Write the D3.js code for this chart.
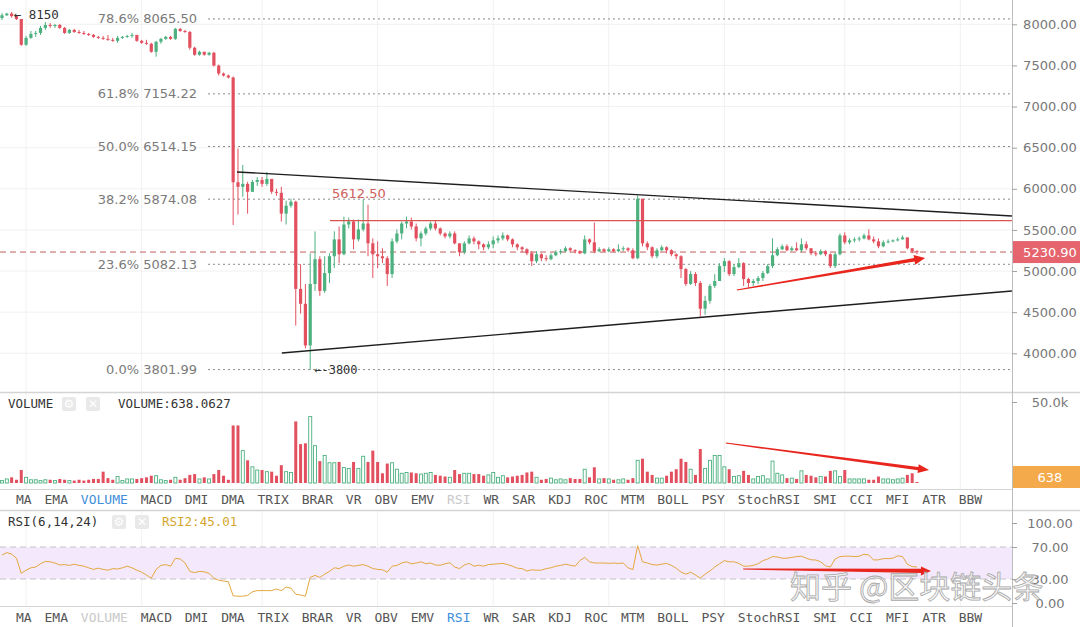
<!DOCTYPE html>
<html>
<head>
<meta charset="utf-8">
<script src="https://cdn.jsdelivr.net/npm/d3@7"></script>
<style>
  body { margin: 0; background: #fff; }
  svg { display: block; }
</style>
</head>
<body>
<div id="chart"></div>
<script>
// data (price in USD, volume in thousands, one entry per candle)
var firstOpen = 8076;

var closes = [
  8110, 8130, 8100, 8064, 7751, 7835, 7883, 7895, 7956, 7992,
  7980, 7992, 7956, 7895, 7932, 7907, 7895, 7883, 7871, 7847,
  7835, 7823, 7811, 7799, 7835, 7847, 7859, 7871, 7799, 7775,
  7763, 7666, 7787, 7823, 7847, 7823, 7944, 7919, 7907, 7715,
  7630, 7666, 7630, 7654, 7498, 7401, 7377, 7353, 6080, 6024,
  6060, 5964, 6084, 6108, 6060, 6120, 5964, 5951, 5698, 5795,
  5843, 4783, 4602, 4096, 4843, 5144, 4759, 4975, 5180, 5385,
  5204, 5566, 5602, 5385, 5506, 5578, 5337, 5204, 5180, 5156,
  4963, 5361, 5457, 5578, 5602, 5542, 5397, 5457, 5518, 5578,
  5518, 5457, 5421, 5457, 5337, 5229, 5337, 5397, 5361, 5325,
  5289, 5325, 5373, 5397, 5433, 5385, 5325, 5289, 5265, 5216,
  5120, 5204, 5156, 5144, 5192, 5229, 5241, 5277, 5253, 5241,
  5216, 5385, 5349, 5241, 5265, 5241, 5265, 5241, 5265, 5277,
  5253, 5156, 5879, 5337, 5289, 5180, 5253, 5289, 5253, 5204,
  5180, 5024, 4843, 4963, 4855, 4542, 4638, 4819, 4879, 5060,
  5120, 4963, 5048, 5096, 4903, 4855, 4879, 4915, 4975, 5060,
  5192, 5265, 5301, 5253, 5277, 5253, 5325, 5277, 5216, 5204,
  5241, 5204, 5060, 5204, 5433, 5349, 5373, 5385, 5397, 5433,
  5385, 5361, 5301, 5349, 5361, 5373, 5385, 5409, 5277, 5241,
  5231
];

var highs = [
  8135, 8140, 8150, 8110, 8064, 7859, 7919, 7919, 7980, 8028,
  8016, 8004, 8004, 7968, 7944, 7944, 7932, 7919, 7895, 7883,
  7859, 7859, 7871, 7835, 7859, 7859, 7871, 7895, 7871, 7811,
  7811, 7775, 7799, 7835, 7859, 7859, 7956, 7956, 7932, 7919,
  7727, 7678, 7666, 7666, 7666, 7510, 7413, 7389, 7365, 6490,
  6289, 6084, 6108, 6144, 6144, 6205, 6120, 6000, 6024, 5855,
  5879, 5855, 5084, 4843, 5216, 5482, 5180, 5180, 5216, 5482,
  5542, 5662, 5650, 5626, 5626, 5867, 5807, 5397, 5361, 5277,
  5180, 5397, 5506, 5602, 5662, 5650, 5578, 5482, 5542, 5602,
  5614, 5530, 5470, 5482, 5482, 5337, 5361, 5433, 5421, 5373,
  5337, 5361, 5421, 5433, 5470, 5445, 5397, 5337, 5301, 5277,
  5241, 5241, 5216, 5192, 5216, 5253, 5265, 5301, 5289, 5265,
  5253, 5433, 5397, 5590, 5289, 5277, 5289, 5277, 5325, 5301,
  5289, 5277, 5920, 5879, 5361, 5301, 5277, 5313, 5301, 5265,
  5216, 5192, 5036, 5000, 4987, 4879, 4699, 4843, 4963, 5096,
  5157, 5132, 5084, 5157, 5108, 4920, 4903, 4940, 5000, 5084,
  5398, 5289, 5325, 5325, 5301, 5349, 5397, 5361, 5277, 5241,
  5265, 5253, 5216, 5229, 5457, 5470, 5397, 5409, 5421, 5457,
  5506, 5421, 5397, 5373, 5385, 5385, 5409, 5433, 5409, 5277,
  5253
];

var lows = [
  8052, 8100, 8080, 8052, 7739, 7739, 7823, 7847, 7871, 7932,
  7956, 7956, 7944, 7883, 7883, 7895, 7883, 7871, 7859, 7835,
  7823, 7811, 7799, 7787, 7775, 7823, 7835, 7835, 7787, 7763,
  7751, 7654, 7606, 7763, 7811, 7811, 7811, 7907, 7895, 7691,
  7618, 7618, 7618, 7618, 7486, 7377, 7365, 7341, 5560, 5686,
  5903, 5698, 5964, 6036, 6024, 6036, 5939, 5915, 5602, 5566,
  5771, 4337, 4482, 4060, 3800, 4759, 4698, 4735, 4855, 5036,
  5096, 5192, 5518, 5265, 5361, 5482, 5180, 4915, 5036, 5096,
  4819, 4915, 5337, 5385, 5518, 5506, 5361, 5301, 5433, 5494,
  5494, 5433, 5397, 5397, 5325, 5180, 5204, 5325, 5325, 5265,
  5253, 5265, 5277, 5337, 5373, 5361, 5289, 5253, 5229, 5192,
  5060, 5096, 5120, 5120, 5132, 5180, 5204, 5229, 5229, 5216,
  5204, 5204, 5325, 5216, 5229, 5229, 5229, 5229, 5229, 5241,
  5229, 5144, 5144, 5301, 5253, 5156, 5156, 5241, 5216, 5180,
  5144, 4915, 4819, 4831, 4819, 4446, 4470, 4602, 4795, 4879,
  4987, 4940, 4940, 5036, 4819, 4800, 4819, 4843, 4879, 4963,
  5036, 5180, 5253, 5241, 5241, 5241, 5229, 5253, 5192, 5180,
  5192, 5180, 5036, 5036, 5192, 5325, 5325, 5349, 5361, 5385,
  5373, 5337, 5277, 5289, 5337, 5349, 5361, 5385, 5265, 5216,
  5204
];

var volumesK = [
  1.5, 2.5, 3.5, 2, 8, 3.5, 2, 2, 1.5, 2,
  2, 1.5, 2.5, 2, 1.5, 1.5, 2, 1.5, 2, 2.5,
  2.5, 7, 3, 2, 4, 1.5, 2.5, 2.5, 2.5, 3,
  3.5, 4.5, 4.5, 2, 1.5, 2, 3.5, 2, 3, 5,
  5.5, 2.5, 3.5, 2.5, 5.5, 8, 4.5, 2, 35.5, 35.5,
  20, 14, 10, 8, 8, 7, 7, 4.5, 11, 7,
  6.5, 38, 24, 24.5, 41, 23, 13.5, 17, 12.5, 12.5,
  13, 9.5, 9, 13, 9, 16.5, 13, 20, 13, 6,
  12, 12.5, 8.5, 6, 6.5, 6.5, 6, 5.5, 6, 6.5,
  5, 4.5, 4, 3.5, 8, 5.5, 6, 6, 5.5, 5.5,
  4.5, 5, 6.5, 3.5, 4.5, 3.5, 4, 4.5, 5, 6.5,
  7, 3.5, 2, 2.5, 3, 2, 2.5, 2, 3, 2.5,
  2.5, 8.5, 3.5, 9.7, 2.5, 3, 2.5, 2, 2, 2.5,
  2, 3, 14, 15, 7, 5, 3, 3, 4.5, 7,
  8.5, 15, 13, 8.5, 5, 21, 9, 14, 17, 17,
  10, 8.5, 4, 4.5, 7.5, 5, 2.5, 4, 4.5, 2.5,
  13.5, 6, 5, 3, 3, 2.5, 7.5, 5, 4.5, 3.5,
  4, 4, 7.5, 7.5, 4, 8, 2.5, 2.5, 2.5, 2.5,
  2, 2, 4, 2.5, 2.5, 2, 2.5, 3, 5, 6,
  0.638
];

var rsi = [
  60, 63, 61, 56, 37, 41, 44, 45, 49, 52,
  51.5, 50, 47.5, 48, 47, 48.5, 47, 46, 44, 42,
  43.5, 42, 41, 43, 42.5, 44, 46, 44, 41, 38.5,
  35, 31, 42, 47, 48, 46, 56, 55, 50, 39.5,
  38, 39.5, 39, 37, 31, 28.5, 27.5, 26.5, 9, 8.5,
  8.5, 9.5, 14, 15.5, 15.5, 15.5, 15.5, 17.5, 15.5, 20,
  18.5, 11, 10, 8.5, 32, 34.5, 32, 36, 39.5, 44,
  43, 46, 47.5, 46, 47, 48, 46, 43, 42, 41.5,
  38.5, 46, 47, 50, 51.5, 49, 50, 51.5, 49, 50,
  47.5, 47.2, 49, 50.3, 45, 43, 47.5, 49.5, 46, 47.2,
  46, 48, 48.5, 49, 49.5, 48, 46, 43.5, 43, 40,
  41.5, 41, 41, 43, 44, 46, 47, 48.5, 47.2, 46,
  53, 57, 51.5, 50, 50, 50, 49.5, 50, 49.4, 50,
  44, 41.7, 71.7, 51.5, 50, 48, 47.5, 48.5, 49.5, 47,
  43.5, 38.7, 36, 38.5, 35, 31, 36, 40, 45, 49,
  53, 51.5, 51.5, 49.5, 46, 46, 47, 49, 53, 55,
  58, 57.5, 56, 56, 57, 58, 58.5, 56, 54, 53.7,
  51.5, 46.5, 45, 55, 58, 58.5, 58.5, 58, 58.5, 61,
  60, 53.7, 54, 55.5, 55.5, 56, 59, 58, 48.5, 45.5,
  45.01
];

var lastPrice = 5230.90;
var lastVolume = 638.0627;

var priceTicks = [4000, 4500, 5000, 5500, 6000, 6500, 7000, 7500, 8000];
var fibLevels = [8065.50, 7154.22, 6514.15, 5874.08, 5082.13, 3801.99];
var fibPercents = ['78.6%', '61.8%', '50.0%', '38.2%', '23.6%', '0.0%'];
var rsiTicks = [0, 30, 70, 100];
var gridIdx = [5, 29, 54, 78, 102, 126, 150, 175, 199];

var tabs = ['MA', 'EMA', 'VOLUME', 'MACD', 'DMI', 'DMA', 'TRIX', 'BRAR', 'VR', 'OBV', 'EMV', 'RSI', 'WR',
  'SAR', 'KDJ', 'ROC', 'MTM', 'BOLL', 'PSY', 'StochRSI', 'SMI', 'CCI', 'MFI', 'ATR', 'BBW'];

// drawn annotations, in [candle index, value]
var upperTrend = [[48.8, 6205], [209.7, 5670]];
var lowerTrend = [[58.1, 4004], [209.7, 4758]];
var resistance = { from: 68.1, to: 209.7, value: 5612.50 };
var priceArrow = [[152.6, 4770], [191.7, 5159]];
var volumeArrow = [[150.3, 24.7], [192.5, 8.0]];
var rsiArrow = [[153.9, 42.5], [192.9, 40]];

// dimensions
var width = 1080, height = 627;
var axisX = 1012;
var panels = {
  main: [0, 392],
  volume: [393, 489],
  rsi: [510, 606]
};

var opens = closes.map((c, i) => i === 0 ? firstOpen : closes[i - 1]);
var n = closes.length;

var red = '#e2505f', green = '#4cb07f';
var colorOf = (i) => closes[i] >= opens[i] ? green : red;

var svg = d3.select('#chart')
  .append('svg')
  .attr('width', width)
  .attr('height', height)
  .style('font-family', 'DejaVu Sans');

// scales
var x = d3.scaleLinear().domain([0, n - 1]).range([2, 917]);
var y = d3.scaleLinear().domain([4000, 8000]).range([353.3, 24.3]);
var yVol = d3.scaleLinear().domain([0, 50]).range([483, 402]);
var yRsi = d3.scaleLinear().domain([0, 100]).range([603, 523]);

svg.append('defs').append('clipPath').attr('id', 'plot')
  .append('rect').attr('x', 0).attr('y', 0).attr('width', axisX).attr('height', height);

// grid
var grid = svg.append('g').attr('stroke', '#f1f1f1');
Object.values(panels).forEach(function(p) {
  grid.selectAll(null)
    .data(gridIdx)
    .join('line')
    .attr('x1', d => x(d)).attr('x2', d => x(d))
    .attr('y1', p[0]).attr('y2', p[1]);
});
grid.selectAll(null)
  .data(priceTicks)
  .join('line')
  .attr('x1', 0).attr('x2', axisX)
  .attr('y1', d => y(d)).attr('y2', d => y(d));

// RSI band
svg.append('rect')
  .attr('x', 0).attr('width', axisX)
  .attr('y', yRsi(70)).attr('height', yRsi(30) - yRsi(70))
  .attr('fill', '#f4e8fc');
svg.selectAll(null)
  .data([30, 70])
  .join('line')
  .attr('x1', 0).attr('x2', axisX)
  .attr('y1', d => yRsi(d)).attr('y2', d => yRsi(d))
  .attr('stroke', '#c4c4c4')
  .attr('stroke-dasharray', '6,4');

// panel separators
var sep = svg.append('g').attr('stroke', '#d4d4d4');
sep.append('line').attr('x1', 0).attr('x2', width).attr('y1', 392.5).attr('y2', 392.5).attr('stroke-width', 1.5);
sep.append('line').attr('x1', 0).attr('x2', axisX).attr('y1', 489.5).attr('y2', 489.5);
sep.append('line').attr('x1', 0).attr('x2', width).attr('y1', 510.5).attr('y2', 510.5).attr('stroke-width', 1.5);
sep.append('line').attr('x1', 0).attr('x2', axisX).attr('y1', 606.5).attr('y2', 606.5);

// fibonacci levels
var fib = svg.append('g');
fib.selectAll('line')
  .data(fibLevels)
  .join('line')
  .attr('x1', 208).attr('x2', axisX)
  .attr('y1', d => y(d)).attr('y2', d => y(d))
  .attr('stroke', '#8a8a8a')
  .attr('stroke-dasharray', '2,3');
fib.selectAll('text')
  .data(fibLevels)
  .join('text')
  .attr('x', 197)
  .attr('y', d => y(d))
  .attr('dy', '0.35em')
  .attr('text-anchor', 'end')
  .attr('fill', '#7a7a7a')
  .style('font-size', '13px')
  .text((d, i) => fibPercents[i] + ' ' + d3.format('.2f')(d));

// last price dashed line
svg.append('line')
  .attr('x1', 0).attr('x2', axisX)
  .attr('y1', y(lastPrice)).attr('y2', y(lastPrice))
  .attr('stroke', '#c0605c')
  .attr('stroke-dasharray', '6,4');

// candles
var plot = svg.append('g').attr('clip-path', 'url(#plot)');
var candles = plot.append('g')
  .selectAll('g')
  .data(closes)
  .join('g');
candles.append('line')
  .attr('x1', (d, i) => x(i)).attr('x2', (d, i) => x(i))
  .attr('y1', (d, i) => y(highs[i])).attr('y2', (d, i) => y(lows[i]))
  .attr('stroke', (d, i) => colorOf(i))
  .attr('stroke-width', 1);
candles.append('rect')
  .attr('x', (d, i) => x(i) - 1.6)
  .attr('width', 3.2)
  .attr('y', (d, i) => y(Math.max(opens[i], closes[i])))
  .attr('height', (d, i) => Math.max(1, Math.abs(y(opens[i]) - y(closes[i]))))
  .attr('fill', (d, i) => colorOf(i));

// trend lines
var lineGen = d3.line().x(d => x(d[0])).y(d => y(d[1]));
[upperTrend, lowerTrend].forEach(function(t) {
  plot.append('path')
    .attr('d', lineGen(t))
    .attr('stroke', '#1e1e1e')
    .attr('stroke-width', 1.4)
    .attr('fill', 'none');
});
plot.append('line')
  .attr('x1', x(resistance.from)).attr('x2', x(resistance.to))
  .attr('y1', y(resistance.value)).attr('y2', y(resistance.value))
  .attr('stroke', '#d9534f')
  .attr('stroke-width', 1.2);
svg.append('text')
  .attr('x', x(resistance.from) + 2)
  .attr('y', y(resistance.value) - 27)
  .attr('dy', '0.35em')
  .attr('fill', '#d0605c')
  .style('font-size', '13px')
  .text(d3.format('.2f')(resistance.value));

// high / low markers
var hiIdx = d3.maxIndex(highs), loIdx = d3.minIndex(lows);
svg.append('text')
  .attr('x', x(hiIdx) + 2).attr('y', y(highs[hiIdx]) + 3)
  .attr('dy', '0.35em')
  .attr('fill', '#333')
  .style('font', '12.5px "DejaVu Sans Mono"')
  .text('\u2190 ' + highs[hiIdx]);
svg.append('text')
  .attr('x', x(loIdx) + 4).attr('y', y(lows[loIdx]))
  .attr('dy', '0.35em')
  .attr('fill', '#333')
  .style('font', '12px "DejaVu Sans Mono"')
  .text('\u2190-' + lows[loIdx]);

// volume bars
svg.append('g')
  .selectAll('rect')
  .data(volumesK)
  .join('rect')
  .attr('x', (d, i) => x(i) - 1.5)
  .attr('width', 3)
  .attr('y', d => yVol(d))
  .attr('height', d => Math.max(1, yVol(0) - yVol(d)))
  .attr('fill', (d, i) => closes[i] >= opens[i] ? '#fff' : red)
  .attr('stroke', (d, i) => closes[i] >= opens[i] ? green : 'none')
  .attr('stroke-width', 0.9);

// RSI line
svg.append('path')
  .datum(rsi)
  .attr('d', d3.line().x((d, i) => x(i)).y(d => yRsi(d)))
  .attr('fill', 'none')
  .attr('stroke', '#e4a73f')
  .attr('stroke-width', 1);

// red hand-drawn arrows
function arrow(pts, w0, w1, headLen, headHalf) {
  var p0 = pts[0], p1 = pts[1];
  var dx = p1[0] - p0[0], dy = p1[1] - p0[1], len = Math.hypot(dx, dy);
  var ux = dx / len, uy = dy / len, nx = -uy, ny = ux;
  var bx = p1[0] - ux * headLen, by = p1[1] - uy * headLen;
  var poly = [
    [p0[0] + nx * w0 / 2, p0[1] + ny * w0 / 2],
    [bx + nx * w1 / 2, by + ny * w1 / 2],
    [bx + nx * headHalf, by + ny * headHalf],
    p1,
    [bx - nx * headHalf, by - ny * headHalf],
    [bx - nx * w1 / 2, by - ny * w1 / 2],
    [p0[0] - nx * w0 / 2, p0[1] - ny * w0 / 2]
  ];
  svg.append('path')
    .attr('d', 'M' + poly.map(p => p.join(',')).join('L') + 'Z')
    .attr('fill', '#e8261e');
}
arrow(priceArrow.map(d => [x(d[0]), y(d[1])]), 1.2, 3.6, 11, 5);
arrow(volumeArrow.map(d => [x(d[0]), yVol(d[1])]), 1.2, 3.2, 11, 4.5);
arrow(rsiArrow.map(d => [x(d[0]), yRsi(d[1])]), 1.2, 4.2, 10, 4.5);

// right axis
svg.append('line')
  .attr('x1', axisX + 0.5).attr('x2', axisX + 0.5)
  .attr('y1', 0).attr('y2', height)
  .attr('stroke', '#bdbdbd');

function styleAxis(g) {
  g.select('.domain').remove();
  g.selectAll('.tick line').attr('stroke', '#a0a0a0');
  g.selectAll('.tick text')
    .attr('x', 38)
    .attr('text-anchor', 'middle')
    .attr('fill', '#777')
    .style('font-family', 'DejaVu Sans')
    .style('font-size', '13px');
}

svg.append('g')
  .attr('transform', 'translate(' + axisX + ',0)')
  .call(d3.axisRight(y).tickValues(priceTicks).tickFormat(d3.format('.2f')).tickSize(5))
  .call(styleAxis);

svg.append('g')
  .attr('transform', 'translate(' + axisX + ',0)')
  .call(d3.axisRight(yVol).tickValues([50]).tickFormat(d => d3.format('.1f')(d) + 'k').tickSize(5))
  .call(styleAxis);

svg.append('g')
  .attr('transform', 'translate(' + axisX + ',0)')
  .call(d3.axisRight(yRsi).tickValues(rsiTicks).tickFormat(d3.format('.2f')).tickSize(5))
  .call(styleAxis);

// value tags on the axis
function tag(yPos, label, fill) {
  svg.append('rect')
    .attr('x', axisX + 1).attr('y', yPos - 11)
    .attr('width', width - axisX - 1).attr('height', 22)
    .attr('fill', fill);
  svg.append('text')
    .attr('x', axisX + 38).attr('y', yPos)
    .attr('dy', '0.35em')
    .attr('text-anchor', 'middle')
    .attr('fill', '#fff')
    .style('font-size', '13px')
    .text(label);
}
tag(y(lastPrice), d3.format('.2f')(lastPrice), '#e5646e');
tag(yVol(volumesK[n - 1]) - 5, d3.format('d')(Math.round(lastVolume)), '#f4a94a');

// panel headers
function header(yPos, name, iconX, valueX, valueText, valueColor) {
  svg.append('text')
    .attr('x', 8).attr('y', yPos).attr('dy', '0.35em')
    .attr('fill', '#333')
    .style('font', '12.5px "DejaVu Sans Mono"')
    .text(name);
  iconX.forEach(function(ix, k) {
    svg.append('rect')
      .attr('x', ix).attr('y', yPos - 7)
      .attr('width', 14).attr('height', 14).attr('rx', 2)
      .attr('fill', '#e9e9e9');
    svg.append('text')
      .attr('x', ix + 7).attr('y', yPos).attr('dy', '0.35em')
      .attr('text-anchor', 'middle')
      .attr('fill', '#fff')
      .style('font-size', '12px')
      .text(k === 0 ? '\u2699' : '\u2715');
  });
  svg.append('text')
    .attr('x', valueX).attr('y', yPos).attr('dy', '0.35em')
    .attr('fill', valueColor)
    .style('font', '12.5px "DejaVu Sans Mono"')
    .text(valueText);
}
header(404, 'VOLUME', [62, 86], 118, 'VOLUME:' + lastVolume, '#333');
header(522, 'RSI(6,14,24)', [112, 135], 162, 'RSI2:' + d3.format('.2f')(rsi[n - 1]), '#d4a72c');

// indicator tab bars
function tabBar(yPos, active, muted) {
  var cx = 16;
  tabs.forEach(function(t) {
    svg.append('text')
      .attr('x', cx).attr('y', yPos).attr('dy', '0.35em')
      .attr('fill', t === active ? '#3f8fdc' : (t === muted ? '#c9c9c9' : '#555'))
      .style('font', '13px "DejaVu Sans Mono"')
      .text(t);
    cx += t.length * 7.83 + 12.85;
  });
}
tabBar(499, 'VOLUME', 'RSI');
tabBar(617, 'RSI', 'VOLUME');

// watermark
svg.append('text')
  .attr('x', 790).attr('y', 598)
  .attr('fill', '#f2f2f2')
  .attr('fill-opacity', 0.85)
  .attr('stroke', '#a8a8a8')
  .attr('stroke-width', 0.8)
  .style('font-family', '"Noto Sans CJK SC"')
  .style('font-size', '31px')
  .text('知乎 @区块链头条');
</script>
</body>
</html>
